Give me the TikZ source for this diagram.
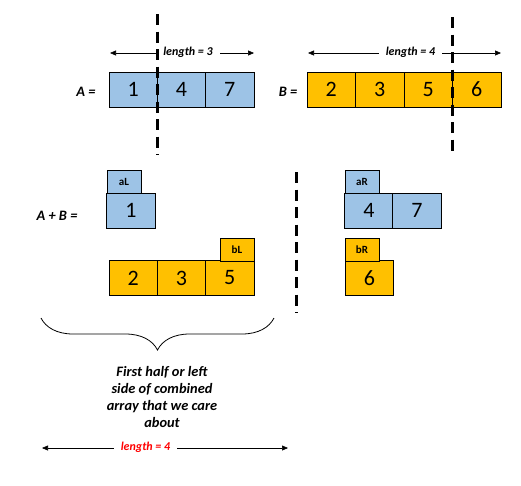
\documentclass[tikz,border=0pt]{standalone}
\usepackage{fontspec}
\setmainfont{Carlito}
\usetikzlibrary{arrows.meta,decorations.pathreplacing}
\definecolor{cellblue}{HTML}{9DC3E6}
\definecolor{cellorange}{HTML}{FFC000}
\begin{document}
\begin{tikzpicture}[x=10pt,y=10pt,
  cell/.style={draw=black,line width=0.75pt,minimum width=48.4pt,minimum height=35pt,font=\fontsize{22}{22}\selectfont},
  tab/.style={draw=black,line width=0.75pt,minimum width=34pt,minimum height=23pt,font=\bfseries\fontsize{11}{12}\selectfont},
  lbl/.style={font=\bfseries\itshape\fontsize{14.4}{17}\selectfont},
  lenlbl/.style={fill=white,inner xsep=7pt,font=\bfseries\itshape\fontsize{12}{13}\selectfont},
  cut/.style={line width=3pt,dash pattern=on 11pt off 6.5pt},
  arr/.style={{Triangle[length=6pt,width=5pt]}-{Triangle[length=6pt,width=5pt]},line width=0.6pt}]
\tikzstyle{every node}+=[inner sep=0pt]
\useasboundingbox (0,0) rectangle (52.1,-48.5);
% lengths
\coordinate (lenAl) at (11.0,-5.3);
\coordinate (lenAr) at (25.4,-5.3);
\draw [arr] (lenAl) -- (lenAr);
\node [lenlbl] (lenA) at (18.8,-5.2) {length = 3};
\coordinate (lenBl) at (30.8,-5.3);
\coordinate (lenBr) at (50.1,-5.3);
\draw [arr] (lenBl) -- (lenBr);
\node [lenlbl] (lenB) at (41.05,-5.2) {length = 4};
\coordinate (lenCl) at (4.2,-44.8);
\coordinate (lenCr) at (28.8,-44.8);
\draw [arr] (lenCl) -- (lenCr);
\node [lenlbl,text=red] (lenC) at (14.55,-44.7) {length = 4};
% A and B
\node [lbl] (Alab) at (8.6,-9.2) {A =};
\node [cell,fill=cellblue] (a1) at (13.32,-8.95) {1};
\node [cell,fill=cellblue] (a4) at (18.15,-8.95) {4};
\node [cell,fill=cellblue] (a7) at (22.98,-8.95) {7};
\node [lbl] (Blab) at (28.8,-9.2) {B =};
\node [cell,fill=cellorange] (b2) at (33.12,-8.95) {2};
\node [cell,fill=cellorange] (b3) at (37.97,-8.95) {3};
\node [cell,fill=cellorange] (b5) at (42.82,-8.95) {5};
\node [cell,fill=cellorange] (b6) at (47.67,-8.95) {6};
% A + B, left side
\node [lbl] (ABlab) at (5.7,-21.6) {A + B =};
\node [cell,fill=cellblue] (l1) at (13.1,-21.05) {1};
\node [tab,fill=cellblue] (aL) at (12.4,-18.15) {aL};
\node [cell,fill=cellorange] (l2) at (13.32,-27.8) {2};
\node [cell,fill=cellorange] (l3) at (18.15,-27.8) {3};
\node [cell,fill=cellorange] (l5) at (22.98,-27.8) {5};
\node [tab,fill=cellorange] (bL) at (23.7,-24.95) {bL};
% right side
\node [cell,fill=cellblue] (r4) at (36.9,-21.05) {4};
\node [cell,fill=cellblue] (r7) at (41.7,-21.05) {7};
\node [tab,fill=cellblue] (aR) at (36.2,-18.15) {aR};
\node [cell,fill=cellorange] (r6) at (36.95,-27.8) {6};
\node [tab,fill=cellorange] (bR) at (36.2,-24.95) {bR};
% cuts
\coordinate (cutAtop) at (15.7,-1.4);
\coordinate (cutAbot) at (15.7,-15.5);
\draw [cut] (cutAtop) -- (cutAbot);
\coordinate (cutBtop) at (45.2,-1.7);
\coordinate (cutBbot) at (45.2,-15.7);
\draw [cut] (cutBtop) -- (cutBbot);
\coordinate (cutMtop) at (29.6,-17.2);
\coordinate (cutMbot) at (29.6,-31.3);
\draw [cut] (cutMtop) -- (cutMbot);
% brace and caption
\coordinate (brL) at (4.1,-31.8);
\coordinate (brR) at (27.4,-31.8);
\draw [line width=0.8pt,decorate,decoration={brace,mirror,amplitude=32pt}] (brL) -- (brR);
\node [lbl,align=center] (caption) at (16.2,-39.7) {First half or left\\side of combined\\array that we care\\about};
\end{tikzpicture}
\end{document}
